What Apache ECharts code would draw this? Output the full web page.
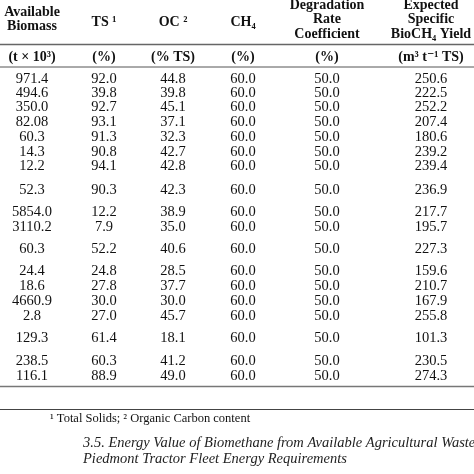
<!DOCTYPE html>
<html>
<head>
<meta charset="utf-8">
<script src="https://cdn.jsdelivr.net/npm/echarts@6/dist/echarts.min.js"></script>
<style>html,body{margin:0;padding:0;background:#fff}#main{width:474px;height:474px}</style>
</head>
<body>
<div id="main"></div>
<script>
// table data
var biomass = ['971.4','494.6','350.0','82.08','60.3','14.3','12.2','52.3','5854.0','3110.2','60.3','24.4','18.6','4660.9','2.8','129.3','238.5','116.1'];
var ts = ['92.0','39.8','92.7','93.1','91.3','90.8','94.1','90.3','12.2','7.9','52.2','24.8','27.8','30.0','27.0','61.4','60.3','88.9'];
var oc = ['44.8','39.8','45.1','37.1','32.3','42.7','42.8','42.3','38.9','35.0','40.6','28.5','37.7','30.0','45.7','18.1','41.2','49.0'];
var ch4 = ['60.0','60.0','60.0','60.0','60.0','60.0','60.0','60.0','60.0','60.0','60.0','60.0','60.0','60.0','60.0','60.0','60.0','60.0'];
var degr = ['50.0','50.0','50.0','50.0','50.0','50.0','50.0','50.0','50.0','50.0','50.0','50.0','50.0','50.0','50.0','50.0','50.0','50.0'];
var yieldV = ['250.6','222.5','252.2','207.4','180.6','239.2','239.4','236.9','217.7','195.7','227.3','159.6','210.7','167.9','255.8','101.3','230.5','274.3'];
var units = ['(t × 10³)','(%)','(% TS)','(%)','(%)','(m³ t⁻¹ TS)'];

// layout (pixels)
var colX = [32, 104, 173, 243, 327, 431];
var rowY = [79,93,107,122,137,152,166,190,212,227,249,271,286,301,316,338,361,376];

var columns = [biomass, ts, oc, ch4, degr, yieldV];
var cells = [];
columns.forEach(function (col, c) {
    col.forEach(function (v, r) { cells.push([colX[c], rowY[r], v]); });
});

var font = '"Liberation Serif", "DejaVu Serif", serif';
var myChart = echarts.init(document.getElementById('main'));

function headText(x, y, text, bold) {
    return { type: 'text', x: x, y: y, style: { text: text, font: (bold ? 'bold ' : '') + '14px ' + font, fill: '#111', align: 'center', verticalAlign: 'middle', lineHeight: 14.5 } };
}
function hLine(y, w, color) {
    return { type: 'line', shape: { x1: 0, y1: y, x2: 474, y2: y }, style: { stroke: color || '#444', lineWidth: w || 1 } };
}

var graphics = [
    headText(32, 19.5, 'Available\nBiomass', true),
    headText(104, 22, 'TS ¹', true),
    headText(173, 22, 'OC ²', true),
    headText(243, 22, 'CH₄', true),
    headText(327, 19.5, 'Degradation\nRate\nCoefficient', true),
    headText(431, 19.5, 'Expected\nSpecific\nBioCH₄ Yield', true),
    hLine(44.5, 1.5, '#666'),
    hLine(67, 1, '#555'),
    hLine(386.5, 1.5, '#777'),
    hLine(409.5, 1.2, '#444'),
    { type: 'text', x: 50, y: 419, style: { text: '¹ Total Solids; ² Organic Carbon content', font: '12.5px ' + font, fill: '#111', verticalAlign: 'middle' } },
    { type: 'text', x: 83, y: 443, style: { text: '3.5. Energy Value of Biomethane from Available Agricultural Wastes and C', font: 'italic 14.5px ' + font, fill: '#222', verticalAlign: 'middle' } },
    { type: 'text', x: 83, y: 459, style: { text: 'Piedmont Tractor Fleet Energy Requirements', font: 'italic 14.5px ' + font, fill: '#222', verticalAlign: 'middle' } }
];
units.forEach(function (u, i) { graphics.push(headText(colX[i], 57, u, true)); });

var option = {
    animation: false,
    grid: { left: 0, right: 0, top: 0, bottom: 0 },
    xAxis: { type: 'value', min: 0, max: 474, show: false },
    yAxis: { type: 'value', min: 0, max: 474, inverse: true, show: false },
    graphic: graphics,
    series: [{
        type: 'custom',
        data: cells,
        renderItem: function (params, api) {
            var p = api.coord([api.value(0), api.value(1)]);
            return { type: 'text', x: p[0], y: p[1], style: { text: cells[params.dataIndex][2], font: '14.5px ' + font, fill: '#111', align: 'center', verticalAlign: 'middle' } };
        }
    }]
};
myChart.setOption(option);
</script>
</body>
</html>
